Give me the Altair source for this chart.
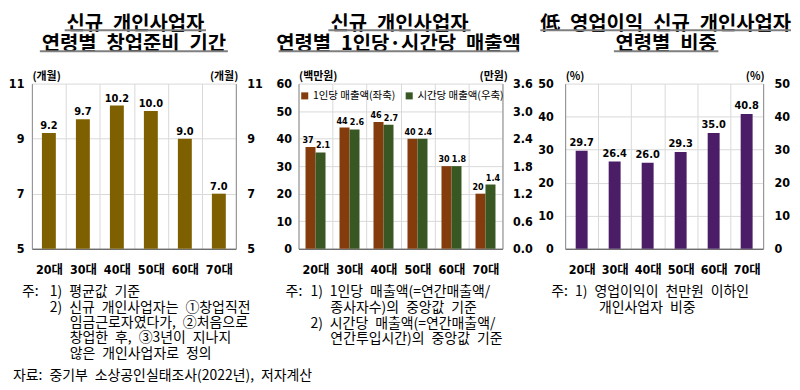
import altair as alt
import pandas as pd

# ---------------- data ----------------
ages = ["20대", "30대", "40대", "50대", "60대", "70대"]
prep_months = [9.2, 9.7, 10.2, 10.0, 9.0, 7.0]
sales_per_person = [37, 44, 46, 40, 30, 20]
sales_per_hour = [2.1, 2.6, 2.7, 2.4, 1.8, 1.4]
low_profit_share = [29.7, 26.4, 26.0, 29.3, 35.0, 40.8]
series_names = ["1인당 매출액(좌축)", "시간당 매출액(우축)"]

ticks1 = [5, 7, 9, 11]
ticks2_left = [0, 10, 20, 30, 40, 50, 60]
ticks2_right = [0.0, 0.6, 1.2, 1.8, 2.4, 3.0, 3.6]
ticks3 = [0, 10, 20, 30, 40, 50]

title1 = ["신규 개인사업자", "연령별 창업준비 기간"]
title2 = ["신규 개인사업자", "연령별 1인당·시간당 매출액"]
title3 = ["低 영업이익 신규 개인사업자", "연령별 비중"]
unit1 = ["(개월)", "(개월)"]
unit2 = ["(백만원)", "(만원)"]
unit3 = ["(%)", "(%)"]
note_head = "주:"
notes1 = ["1) 평균값 기준", "2) 신규 개인사업자는 ①창업직전", "임금근로자였다가, ②처음으로",
          "창업한 후, ③3년이 지나지", "않은 개인사업자로 정의"]
notes2 = ["1) 1인당 매출액(=연간매출액/", "종사자수)의 중앙값 기준",
          "2) 시간당 매출액(=연간매출액/", "연간투입시간)의 중앙값 기준"]
notes3 = ["1) 영업이익이 천만원 이하인", "개인사업자 비중"]
source = "자료: 중기부 소상공인실태조사(2022년), 저자계산"

# ---------------- style / layout ----------------
KFONT = "Noto Sans CJK KR"
NFONT = "Liberation Sans Narrow, DejaVu Sans Condensed, Noto Sans CJK KR, sans-serif"
C1 = "#7F6000"
C2A = "#843C0C"
C2B = "#385723"
C3 = "#4B1D66"
GRID = "#d9d9d9"

W1, W2, W3, H, SP = 205, 205, 199, 166, 63
L1 = 27
L2 = L1 + W1 + SP
L3 = L2 + W2 + SP
TOP = 83
TSHIFT = 3  # text baseline correction for titles

one = pd.DataFrame({"k": [0]})


def sp(s):
    return s.replace(" ", "\u2002")


def text_at(s, px, py, left, size=14, weight="normal", align="left"):
    return alt.Chart(one).mark_text(
        text=s, align=align, baseline="middle", font=KFONT, fontSize=size,
        fontWeight=weight, color="black"
    ).encode(x=alt.value(px - left), y=alt.value(py - TOP))


def uline(x0, x1, py, left):
    return alt.Chart(one).mark_rule(color="#7f7f7f", strokeWidth=2).encode(
        x=alt.value(x0 - left), x2=alt.value(x1 - left), y=alt.value(py - TOP))


def xaxis():
    return alt.Axis(title=None, labelAngle=0, labelFont=NFONT, labelFontSize=12.5,
                    labelFontWeight="bold", labelColor="black", labelPadding=15,
                    ticks=False, tickSize=0, domainColor="#404040",
                    grid=True, gridColor=GRID, tickBand="extent")


def yaxis(orient, title, values, fmt, pad, grid, tx=0):
    return alt.Axis(
        orient=orient, title=title, titleAngle=0,
        titleAlign="left" if orient == "left" else "right",
        titleBaseline="middle", titleX=tx, titleY=-7,
        titleFont=KFONT, titleFontSize=11, titleFontWeight="bold", titleColor="black",
        values=values, format=fmt, labelFont=NFONT, labelFontSize=12.5,
        labelFontWeight="bold", labelColor="black", labelPadding=pad,
        labelFlush=False, labelOverlap=False,
        ticks=False, tickSize=0, domainColor="#8c8c8c", grid=grid, gridColor=GRID)


def titles(lines, centers, ulines, left):
    out = []
    for s, (cx, cy) in zip(lines, centers):
        out.append(text_at(sp(s), cx, cy + TSHIFT, left, size=20, weight="bold", align="center"))
    for (a, b, y) in ulines:
        out.append(uline(a, b, y, left))
    return out


def notes(head, hx, lines, pos, left):
    out = [text_at(head, hx, pos[0][1], left)]
    for s, (px, py) in zip(lines, pos):
        out.append(text_at(sp(s), px, py, left))
    return out


# ---------------- panel 1 ----------------
df1 = pd.DataFrame({"age": ages, "v": prep_months})
X1 = alt.X("age:N", sort=ages, scale=alt.Scale(paddingInner=0, paddingOuter=0), axis=xaxis())
ysc1 = alt.Scale(domain=[5, 11], zero=False, nice=False)
YL1 = alt.Y("v:Q", scale=ysc1, axis=yaxis("left", unit1[0], ticks1, "d", 8, True))
bars1 = alt.Chart(df1).mark_bar(size=14, color=C1).encode(x=X1, y=YL1, y2=alt.datum(5))
lab1 = alt.Chart(df1).mark_text(baseline="bottom", dy=-2, font=NFONT, fontSize=11,
                                fontWeight="bold", color="black").encode(
    x=X1, y=YL1, text=alt.Text("v:Q", format=".1f"))
right1 = alt.Chart(df1).mark_point(opacity=0).encode(
    x=X1, y=alt.Y("v:Q", scale=ysc1, axis=yaxis("right", unit1[1], ticks1, "d", 11, False, 2)))
ann1 = titles(title1, [(131, 20), (129.5, 40)], [(60, 202, 29.5), (35, 224, 50.5)], L1)
ann1 += notes(note_head, 17, notes1, [(45, 293), (45, 309), (65, 324), (65, 339), (65, 355)], L1)
ann1.append(text_at(sp(source), 8, 377, L1))
p1 = alt.layer(alt.layer(bars1, lab1), right1, *ann1).resolve_scale(y="independent").properties(
    width=W1, height=H)

# ---------------- panel 2 ----------------
df2a = pd.DataFrame({"age": ages, "series": series_names[0], "v": sales_per_person})
df2b = pd.DataFrame({"age": ages, "series": series_names[1], "v": sales_per_hour})
X2 = alt.X("age:N", sort=ages, scale=alt.Scale(paddingInner=0, paddingOuter=0), axis=xaxis())
XO = alt.XOffset("series:N", sort=series_names,
                 scale=alt.Scale(domain=series_names, paddingInner=0, paddingOuter=0.7))
COL = alt.Color("series:N", scale=alt.Scale(domain=series_names, range=[C2A, C2B]),
                legend=alt.Legend(title=None, orient="none", legendX=L2 - L1 + 1, legendY=7,
                                  direction="horizontal", symbolType="square", symbolSize=50,
                                  symbolStrokeWidth=0, labelFont=KFONT, labelFontSize=10.5,
                                  labelColor="black", labelOffset=3, columnPadding=8,
                                  padding=0))
YL2 = alt.Y("v:Q", scale=alt.Scale(domain=[0, 60], nice=False),
            axis=yaxis("left", unit2[0], ticks2_left, "d", 7, True))
YR2 = alt.Y("v:Q", scale=alt.Scale(domain=[0, 3.6], nice=False),
            axis=yaxis("right", unit2[1], ticks2_right, ".1f", 10, False, 5))
bars2a = alt.Chart(df2a).mark_bar().encode(x=X2, xOffset=XO, y=YL2, color=COL)
lab2a = alt.Chart(df2a).mark_text(baseline="bottom", dy=-2, dx=-2.5, font=NFONT, fontSize=9,
                                  fontWeight="bold", color="black").encode(
    x=X2, xOffset=XO, y=YL2, text=alt.Text("v:Q", format="d"))
bars2b = alt.Chart(df2b).mark_bar().encode(x=X2, xOffset=XO, y=YR2, color=COL)
lab2b = alt.Chart(df2b).mark_text(baseline="bottom", dy=-2, dx=2.5, font=NFONT, fontSize=9,
                                  fontWeight="bold", color="black").encode(
    x=X2, xOffset=XO, y=YR2, text=alt.Text("v:Q", format=".1f"))
ann2 = titles(title2, [(396.5, 20), (395.5, 40)], [(325, 468, 29.5), (275, 516, 50.5)], L2)
ann2 += notes(note_head, 282, notes2, [(307, 293), (327, 309), (307, 325), (327, 340)], L2)
p2 = alt.layer(alt.layer(bars2a, lab2a), alt.layer(bars2b, lab2b), *ann2).resolve_scale(
    y="independent").properties(width=W2, height=H)

# ---------------- panel 3 ----------------
df3 = pd.DataFrame({"age": ages, "v": low_profit_share})
X3 = alt.X("age:N", sort=ages, scale=alt.Scale(paddingInner=0, paddingOuter=0), axis=xaxis())
ysc3 = alt.Scale(domain=[0, 50], nice=False)
YL3 = alt.Y("v:Q", scale=ysc3, axis=yaxis("left", unit3[0], ticks3, "d", 12, True))
bars3 = alt.Chart(df3).mark_bar(size=12, color=C3).encode(x=X3, y=YL3)
lab3 = alt.Chart(df3).mark_text(baseline="bottom", dy=-3, font=NFONT, fontSize=11,
                                fontWeight="bold", color="black").encode(
    x=X3, y=YL3, text=alt.Text("v:Q", format=".1f"))
right3 = alt.Chart(df3).mark_point(opacity=0).encode(
    x=X3, y=alt.Y("v:Q", scale=ysc3, axis=yaxis("right", unit3[1], ticks3, "d", 11, False, 1)))
ann3 = titles(title3, [(664, 20), (664.5, 40)], [(538, 790, 29.5), (612, 717, 50.5)], L3)
ann3 += notes(note_head, 549, notes3, [(573, 293), (597, 309)], L3)
p3 = alt.layer(alt.layer(bars3, lab3), right3, *ann3).resolve_scale(y="independent").properties(
    width=W3, height=H)

chart = alt.hconcat(p1, p2, p3, spacing=SP, bounds="flush").properties(
    padding={"left": 0, "right": 0, "top": 2 + TSHIFT, "bottom": 0}
).configure_view(stroke=None)

chart.save("out.html", embed_options={"renderer": "svg", "actions": False})
